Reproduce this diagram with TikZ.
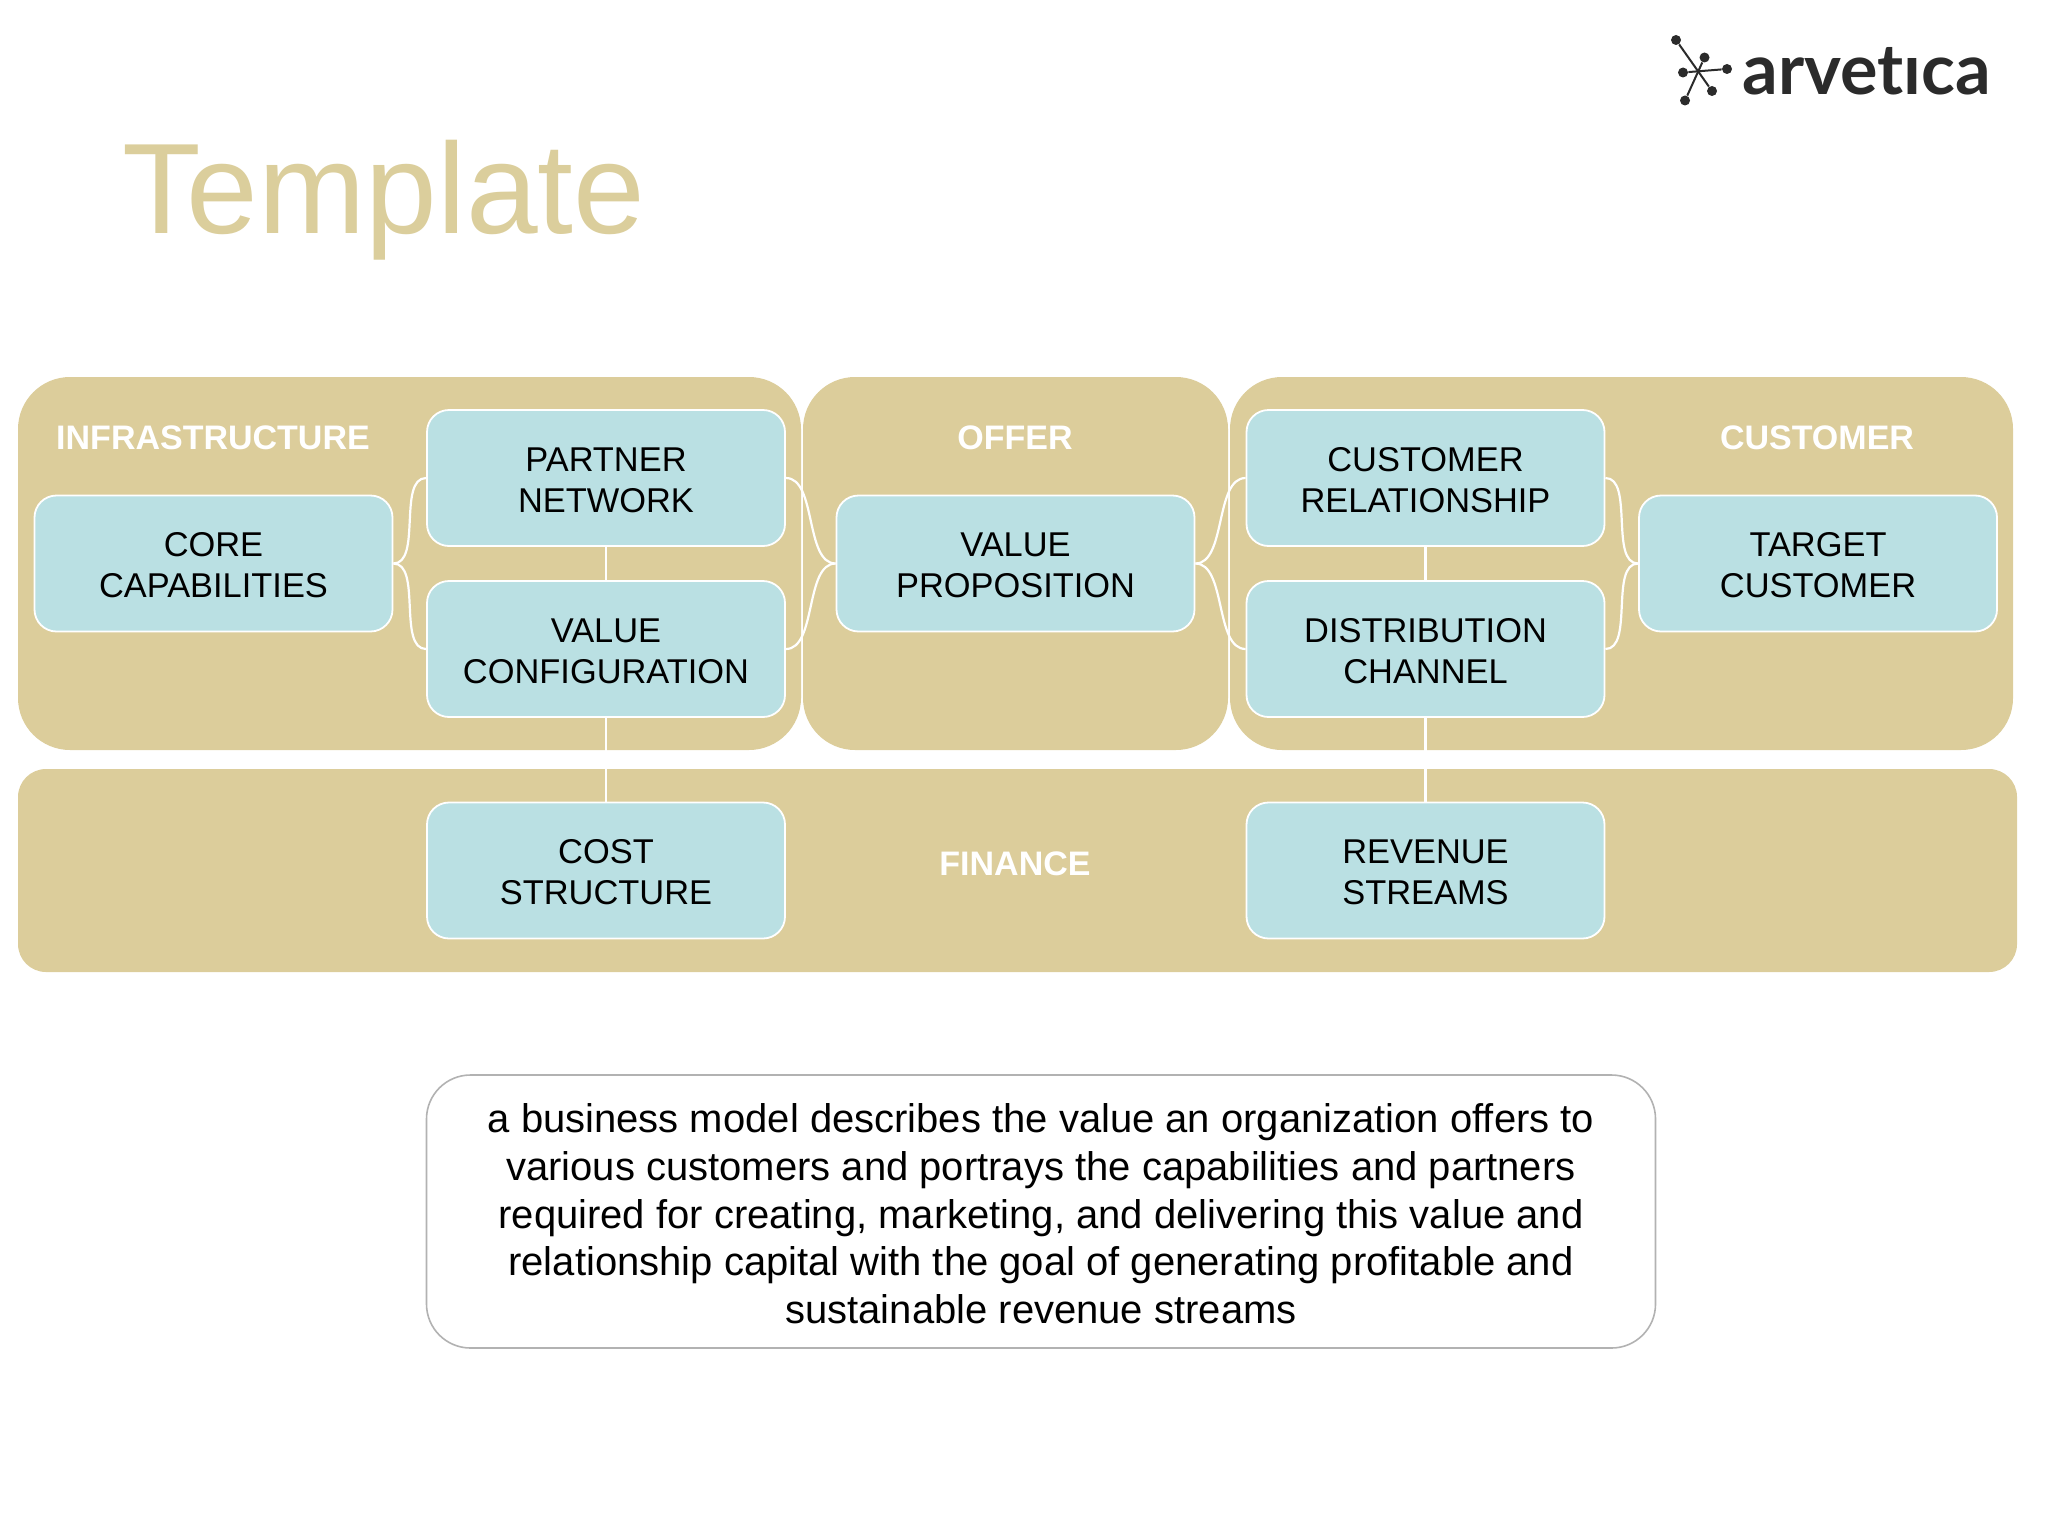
\documentclass[tikz,border=0pt]{standalone}
\usepackage{fontspec}
\setmainfont{Liberation Sans}
\newfontfamily\logofont[Ligatures=NoCommon,Contextuals=NoAlternate]{Lato}
\definecolor{sand}{HTML}{DCCD9B}
\definecolor{titlesand}{HTML}{DBCE9C}
\definecolor{paleblue}{HTML}{BAE0E3}
\definecolor{logogrey}{HTML}{2B2B2B}
\begin{document}
\begin{tikzpicture}[x=0.5pt,y=-0.5pt,inner sep=0pt]
    \tikzstyle{panel}=[rectangle,fill=sand,rounded corners=26pt]
    \tikzstyle{block}=[rectangle,draw=white,fill=paleblue,line width=0.9pt,rounded corners=11pt,
        minimum width=179pt,minimum height=68pt,align=center,text=black,text height=34.4pt,text depth=0pt,
        font=\fontsize{17.2}{20.6}\selectfont]
    \tikzstyle{heading}=[text=white,font=\fontsize{17}{20}\selectfont\bfseries]
    \tikzstyle{link}=[draw=white,line width=1.1pt]
    \tikzstyle{rung}=[draw=white,line width=1.3pt]
    \tikzstyle{dot}=[circle,fill=logogrey,minimum size=5pt]
    \useasboundingbox (0,0) rectangle (2048,1536);

    \node[anchor=base west,text=titlesand,font=\fontsize{64.4}{70}\selectfont] (title) at (122,233) {Template};

    \node[panel,minimum width=391.5pt,minimum height=186.5pt] (infra) at (409.5,563.5) {};
    \node[panel,minimum width=212.5pt,minimum height=186.5pt] (offer) at (1015.5,563.5) {};
    \node[panel,minimum width=391.5pt,minimum height=186.5pt] (customer) at (1621.5,563.5) {};
    \node[panel,rounded corners=14pt,minimum width=999.5pt,minimum height=101.5pt] (finance) at (1017.5,870.5) {};

    \foreach \name/\x/\txt in {infra/213/INFRASTRUCTURE,offer/1015/OFFER,customer/1817/CUSTOMER} {
        \node[heading] (\name head) at (\x,437.5) {\txt};
    };
    \node[heading] (finance head) at (1015,864) {FINANCE};

    \foreach \name/\x/\y/\txt in {core/213.5/563.5/{CORE\\CAPABILITIES},
        partner/606/478/{PARTNER\\NETWORK},
        config/606/649/{VALUE\\CONFIGURATION},
        proposition/1015.5/563.5/{VALUE\\PROPOSITION},
        relation/1425.5/478/{CUSTOMER\\RELATIONSHIP},
        channel/1425.5/649/{DISTRIBUTION\\CHANNEL},
        target/1818/563.5/{TARGET\\CUSTOMER},
        cost/606/870.5/{COST\\STRUCTURE},
        revenue/1425.5/870.5/{REVENUE\\STREAMS}} {
        \node[block] (\name) at (\x,\y) {\txt};
    };

    \foreach \a/\b in {core/partner,core/config,partner/proposition,config/proposition,
        proposition/relation,proposition/channel,relation/target,channel/target} {
        \draw[link] (\a.east) to[out=0,in=180,looseness=0.8] (\b.west);
    };
    \draw[rung] (partner) -- (config);
    \draw[rung] (config) -- (cost);
    \draw[rung] (relation) -- (channel);
    \draw[rung] (channel) -- (revenue);

    \node[rectangle,draw=black!30,fill=white,line width=0.8pt,rounded corners=22pt,
        minimum width=614.5pt,minimum height=136.5pt,align=center,text height=112.2pt,text depth=0pt,
        font=\fontsize{20}{23.9}\selectfont] (definition) at (1041,1211.5) {a business model describes the value an organization offers to\\
        various customers and portrays the capabilities and partners\\
        required for creating, marketing, and delivering this value and\\
        relationship capital with the goal of generating profitable and\\
        sustainable revenue streams};

    \foreach \name/\x/\y in {d1/1676/40,d2/1704.5/57.5,d3/1727/69,d4/1712/91,d5/1685/100.5,d6/1683/72.5} {
        \node[dot] (\name) at (\x,\y) {};
    };
    \draw[logogrey,line width=1pt] (d1) -- (d4);
    \draw[logogrey,line width=1pt] (d6) -- (d3);
    \draw[logogrey,line width=1pt] (d5) -- (d2);
    \node[anchor=base west,text=logogrey,font=\logofont\bfseries\fontsize{35.1}{38}\selectfont] (logo) at (1742,95) {arvet\i ca};
\end{tikzpicture}
\end{document}
